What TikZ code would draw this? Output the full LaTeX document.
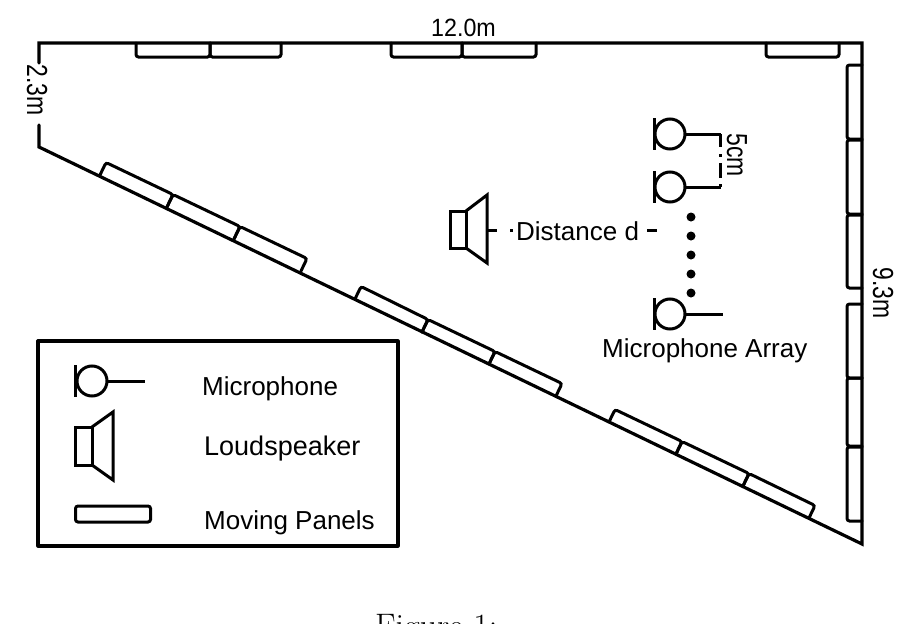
\documentclass[tikz,border=0pt]{standalone}
\usepackage{fontspec}
\setsansfont{Liberation Sans}
\begin{document}
\begin{tikzpicture}[x=1pt,y=-1pt,
  wall/.style={line width=3.2pt,line cap=round,line join=miter},
  panel/.style={line width=3pt,rounded corners=2.5pt,line cap=round},
  sym/.style={line width=3pt,line join=miter},
  lab/.style={font=\sffamily\fontsize{26}{26}\selectfont,inner sep=0pt,anchor=base west},
  vlab/.style={font=\sffamily\fontsize{29}{29}\selectfont,inner sep=0pt,rotate=-90,anchor=center},
  dotm/.style={circle,fill=black,inner sep=0pt,minimum size=9pt},
]
\useasboundingbox (0,0) rectangle (916,624);
\clip (0,0) rectangle (916,624);
\fill[white] (0,0) rectangle (916,624);
% walls
\draw[wall] (39,63) -- (39,43) -- (862,43) -- (862,544) -- (39,147) -- (39,125);
% top panels
\foreach \a/\b in {136/210,210/281,391/462,462/536,766/839}
  \draw[panel] (\a,43) -- (\a,57) -- (\b,57) -- (\b,43);
% right panels
\foreach \a/\b in {65/139,140/214,215/288,304/378,378/446,447/521}
  \draw[panel] (862,\a) -- (847,\a) -- (847,\b) -- (862,\b);
% diagonal panels
\foreach \a/\b/\c/\d in {100/175/167/207,167/207/234/239,234/239/301/271,
                         355/299/422/332,422/332/489/364,489/364/556/396,
                         609/422/676/454,676/454/743/486,743/486/809/518}
  \draw[panel] (\a,\b) -- ++(6,-12.5) -- ([shift={(6,-12.5)}]\c,\d) -- (\c,\d);
% microphones of the array
\foreach \y/\e in {134/721,187/721,314/723}{
  \draw[sym] (670,\y) circle (15);
  \draw[sym] (654.5,\y-16) -- (654.5,\y+16);
  \draw[sym] (685,\y) -- (\e,\y);
}
\draw[line width=3pt,dash pattern=on 13pt off 7pt on 3pt off 6pt on 15pt off 6pt on 4pt] (720,134) -- (720,187);
\foreach \y in {217,236,255,274,293}
  \node[dotm] at (691,\y) {};
% array loudspeaker
\draw[sym] (450.5,211) rectangle (466,248);
\draw[sym] (466,211) -- (487,195) -- (487,263) -- (466,248);
\draw[sym] (487,230) -- (497,230);
\draw[sym] (510,230) -- (513,230);
\draw[sym] (647,230) -- (657,230);
% labels
\node[lab,font=\sffamily\fontsize{25}{25}\selectfont] (top) at (431,36) {\scalebox{0.93}[1]{12.0m}};
\node[vlab] (left) at (37,90) {\scalebox{0.79}[1]{2.3m}};
\node[vlab] (right) at (883,293) {\scalebox{0.79}[1]{9.3m}};
\node[vlab] (gap) at (737,155) {\scalebox{0.79}[1]{5cm}};
\node[lab] (dist) at (516,240) {Distance d};
\node[lab] (arr) at (602,357) {Microphone Array};
% legend
\draw[wall,line join=round] (38,341) rectangle (398,546);
\draw[sym] (92,381) circle (15);
\draw[sym] (75.5,365) -- (75.5,397);
\draw[sym] (107,381) -- (145,381);
\draw[sym] (75.5,427) rectangle (92,465);
\draw[sym] (92,427) -- (113,412) -- (113,480) -- (92,465);
\draw[panel] (75.5,506) rectangle (150.5,522);
\node[lab] (lmic) at (202,395) {Microphone};
\node[lab,font=\sffamily\fontsize{27}{27}\selectfont] (lspk) at (204,455) {Loudspeaker};
\node[lab] (lpan) at (204,529) {Moving Panels};
% caption
\node[inner sep=0pt,anchor=base west,font=\rmfamily\fontsize{34}{34}\selectfont] (cap) at (375,637) {Figure 1:};
\end{tikzpicture}
\end{document}
